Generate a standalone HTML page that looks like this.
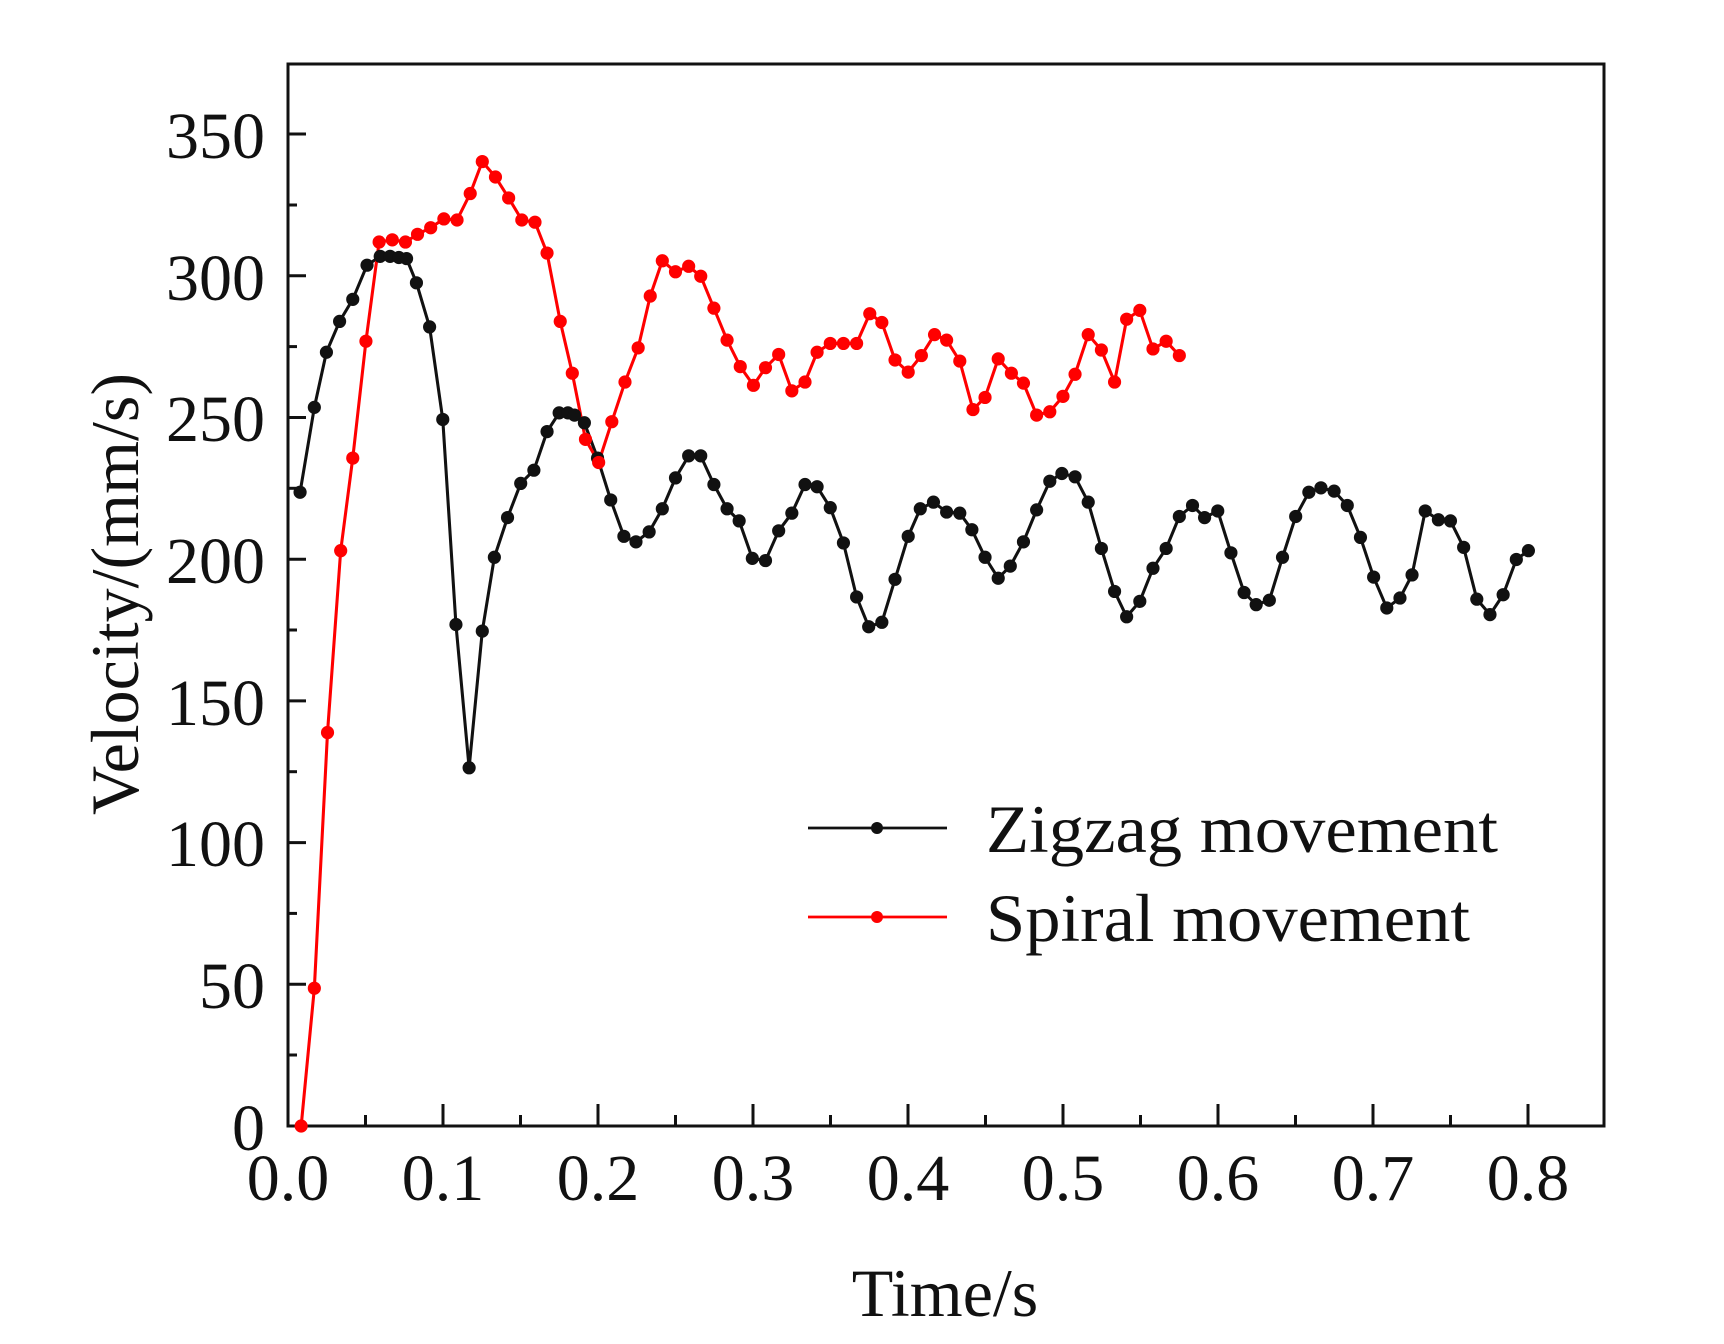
<!DOCTYPE html>
<html><head><meta charset="utf-8"><style>
html,body{margin:0;padding:0;background:#fff;}
svg{display:block;}
text{font-family:"Liberation Serif",serif;fill:#111;}
</style></head><body>
<svg width="1724" height="1344" viewBox="0 0 1724 1344" xmlns="http://www.w3.org/2000/svg">
<rect width="1724" height="1344" fill="#fff"/>
<rect x="288" y="64" width="1316" height="1062" fill="none" stroke="#111" stroke-width="3"/>
<g stroke="#111" stroke-width="3">
<line x1="288" y1="1126" x2="288" y2="1104"/><line x1="365.5" y1="1126" x2="365.5" y2="1115"/>
<line x1="443" y1="1126" x2="443" y2="1104"/><line x1="520.5" y1="1126" x2="520.5" y2="1115"/>
<line x1="598" y1="1126" x2="598" y2="1104"/><line x1="675.5" y1="1126" x2="675.5" y2="1115"/>
<line x1="753" y1="1126" x2="753" y2="1104"/><line x1="830.5" y1="1126" x2="830.5" y2="1115"/>
<line x1="908" y1="1126" x2="908" y2="1104"/><line x1="985.5" y1="1126" x2="985.5" y2="1115"/>
<line x1="1063" y1="1126" x2="1063" y2="1104"/><line x1="1140.5" y1="1126" x2="1140.5" y2="1115"/>
<line x1="1218" y1="1126" x2="1218" y2="1104"/><line x1="1295.5" y1="1126" x2="1295.5" y2="1115"/>
<line x1="1373" y1="1126" x2="1373" y2="1104"/><line x1="1450.5" y1="1126" x2="1450.5" y2="1115"/>
<line x1="1528" y1="1126" x2="1528" y2="1104"/>
<line x1="288" y1="1126" x2="306" y2="1126"/><line x1="288" y1="1055" x2="297" y2="1055"/>
<line x1="288" y1="984.3" x2="306" y2="984.3"/><line x1="288" y1="913.4" x2="297" y2="913.4"/>
<line x1="288" y1="842.6" x2="306" y2="842.6"/><line x1="288" y1="771.7" x2="297" y2="771.7"/>
<line x1="288" y1="700.9" x2="306" y2="700.9"/><line x1="288" y1="630" x2="297" y2="630"/>
<line x1="288" y1="559.2" x2="306" y2="559.2"/><line x1="288" y1="488.3" x2="297" y2="488.3"/>
<line x1="288" y1="417.5" x2="306" y2="417.5"/><line x1="288" y1="346.6" x2="297" y2="346.6"/>
<line x1="288" y1="275.8" x2="306" y2="275.8"/><line x1="288" y1="205" x2="297" y2="205"/>
<line x1="288" y1="134" x2="306" y2="134"/>
</g>
<g font-size="66" text-anchor="end">
<text x="265" y="1150">0</text><text x="265" y="1008">50</text><text x="265" y="866">100</text>
<text x="265" y="725">150</text><text x="265" y="583">200</text><text x="265" y="441">250</text>
<text x="265" y="300">300</text><text x="265" y="158">350</text>
</g>
<g font-size="66" text-anchor="middle">
<text x="288" y="1200">0.0</text><text x="443" y="1200">0.1</text><text x="598" y="1200">0.2</text>
<text x="753" y="1200">0.3</text><text x="908" y="1200">0.4</text><text x="1063" y="1200">0.5</text>
<text x="1218" y="1200">0.6</text><text x="1373" y="1200">0.7</text><text x="1528" y="1200">0.8</text>
</g>
<text x="945" y="1316" font-size="68" text-anchor="middle">Time/s</text>
<text transform="translate(138,594) rotate(-90)" font-size="68" text-anchor="middle">Velocity/(mm/s)</text>
<g transform="matrix(1.0977,0,0,1.1022,1.5,-0.45)">
<polyline fill="none" stroke="#111" stroke-width="2.8" points="272,447 285,370 296,320 308,292 320,272 333,241 345,233 354,233 362,234 369,235 378,257 390,297 402,381 414,567 426,697 438,573 449,506 461,470 473,439 485,427 497,392 508,375 516,375 522,377 531,384 543,416 555,454 567,487 578,492 590,483 602,462 614,434 626,414 637,414 649,440 661,462 672,473 684,507 696,509 708,482 720,466 732,440 743,442 755,461 767,493 779,542 790,569 802,565 814,526 826,487 837,462 849,456 861,465 873,466 884,481 896,506 908,525 919,514 931,492 943,463 955,437 966,430 978,433 990,456 1002,498 1014,537 1025,560 1037,546 1049,516 1061,498 1073,469 1085,459 1096,470 1108,464 1120,502 1132,538 1143,549 1155,545 1167,506 1179,469 1191,447 1202,443 1214,446 1226,459 1238,488 1250,524 1262,552 1274,543 1285,522 1297,464 1309,472 1320,473 1332,497 1344,544 1356,558 1368,540 1380,508 1391,500"/>
<polyline fill="none" stroke="#f00" stroke-width="2.8" points="273,1022 285,897 297,665 309,500 320,416 332,310 344,220 356,218 368,220 379,213 391,207 403,199 415,200 427,176 438,147 450,161 462,180 474,200 486,202 497,230 509,292 520,339 532,399 544,420 556,383 568,347 580,316 591,269 602,237 614,247 626,242 637,251 649,280 661,309 673,333 685,350 696,334 708,322 720,355 732,347 743,320 755,312 767,312 779,312 791,285 802,293 814,327 826,338 838,323 850,304 861,309 873,328 885,372 896,361 908,326 920,339 931,348 943,377 955,374 967,360 978,340 990,304 1002,318 1014,347 1025,290 1037,282 1049,317 1061,310 1073,323"/>
<g id="bd"></g><g id="rd"></g>
</g>
<line x1="808" y1="828" x2="947" y2="828" stroke="#111" stroke-width="2.8"/>
<circle cx="877" cy="828" r="6" fill="#111"/>
<line x1="808" y1="917" x2="947" y2="917" stroke="#f00" stroke-width="2.8"/>
<circle cx="877" cy="917" r="6" fill="#f00"/>
<text x="986" y="852" font-size="68" textLength="512" lengthAdjust="spacingAndGlyphs">Zigzag movement</text>
<text x="986" y="941" font-size="68" textLength="484" lengthAdjust="spacingAndGlyphs">Spiral movement</text>
<script>
(function(){
var ns="http://www.w3.org/2000/svg";
var pl=document.querySelectorAll("polyline");
var ids=["bd","rd"],cols=["#111","#f00"];
for(var k=0;k<2;k++){
var pts=pl[k].getAttribute("points").trim().split(/\s+/);
var g=document.getElementById(ids[k]);
pts.forEach(function(p){var a=p.split(",");var c=document.createElementNS(ns,"circle");
c.setAttribute("cx",a[0]);c.setAttribute("cy",a[1]);c.setAttribute("r","6");c.setAttribute("fill",cols[k]);g.appendChild(c);});
}})();
</script>
</svg>
</body></html>
